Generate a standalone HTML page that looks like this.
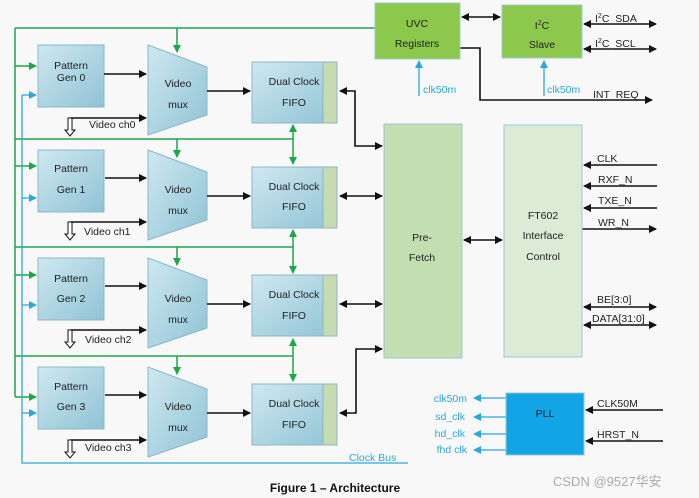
<!DOCTYPE html>
<html><head><meta charset="utf-8"><style>
body{margin:0;background:#f8f8f8;}
svg{display:block;font-family:"Liberation Sans",sans-serif;}
</style></head><body>
<svg width="699" height="498" viewBox="0 0 699 498">
<defs>
<linearGradient id="bl" x1="0" y1="0" x2="1" y2="1"><stop offset="0" stop-color="#cfe8f0"/><stop offset="1" stop-color="#8fc3d5"/></linearGradient>
<marker id="ak" markerWidth="8" markerHeight="8" refX="7" refY="4" orient="auto-start-reverse" markerUnits="userSpaceOnUse"><path d="M0,0 L8,4 L0,8 z" fill="#111"/></marker>
<marker id="ag" markerWidth="8" markerHeight="8" refX="7" refY="4" orient="auto-start-reverse" markerUnits="userSpaceOnUse"><path d="M0,0 L8,4 L0,8 z" fill="#1aa84a"/></marker>
<marker id="ab" markerWidth="8" markerHeight="8" refX="7" refY="4" orient="auto-start-reverse" markerUnits="userSpaceOnUse"><path d="M0,0 L8,4 L0,8 z" fill="#29a8e0"/></marker>
</defs>
<rect width="699" height="498" fill="#f8f8f8"/>
<!-- green bus -->
<g stroke="#1aa84a" stroke-width="1.5" fill="none">
<path d="M15,28 H375 M15,28 V397"/>
<path d="M15,139 H293 M15,247 H293 M15,356 H293"/>
</g>
<g stroke="#1aa84a" stroke-width="1.5" fill="none" marker-end="url(#ag)">
<path d="M15,66 H36"/><path d="M15,166 H36"/><path d="M15,275 H36"/><path d="M15,397 H36"/>
<path d="M177,28 V52"/><path d="M177,139 V157"/><path d="M177,247 V265"/><path d="M177,356 V374"/>
<path d="M293,125 V164" marker-start="url(#ag)"/><path d="M293,230 V273" marker-start="url(#ag)"/><path d="M293,339 V381" marker-start="url(#ag)"/>
</g>
<!-- blue clock bus -->
<g stroke="#29a8e0" stroke-width="1.3" fill="none">
<path d="M22,95 V463 H408"/>
</g>
<g stroke="#29a8e0" stroke-width="1.3" fill="none" marker-end="url(#ab)">
<path d="M22,95 H36"/><path d="M22,198 H36"/><path d="M22,305 H36"/><path d="M22,413 H36"/>
<path d="M419,96 V61"/><path d="M544,96 V61"/>
<path d="M506,398 H474"/><path d="M506,417 H474"/><path d="M506,434 H474"/><path d="M506,450 H474"/>
</g>
<!-- rows -->
<g>
<g id="r0">
<rect x="38" y="45" width="66" height="62" fill="url(#bl)" stroke="#8ab8c8"/>
<path d="M148,45 L207,67 L207,115 L148,135 Z" fill="url(#bl)" stroke="#8ab8c8"/>
<rect x="252" y="62" width="85" height="61" fill="url(#bl)" stroke="#8ab8c8"/>
<rect x="323" y="62" width="14" height="61" fill="#c6dcb0" stroke="#8ab8c8"/>
</g>
<use href="#r0" y="105"/><use href="#r0" y="213"/><use href="#r0" y="322"/>
</g>
<g stroke="#111" stroke-width="1.6" fill="none" marker-end="url(#ak)">
<path d="M104,74 H146"/><path d="M105,178 H146"/><path d="M105,286 H146"/><path d="M105,395 H146"/>
<path d="M70,118 H146"/><path d="M70,222 H146"/><path d="M70,330 H146"/><path d="M70,440 H146"/>
<path d="M207,91 H250"/><path d="M207,196 H250"/><path d="M207,304 H250"/><path d="M207,413 H250"/>
<path d="M340,91 H355 V146 H382" marker-start="url(#ak)"/>
<path d="M340,196 H382" marker-start="url(#ak)"/>
<path d="M340,304 H382" marker-start="url(#ak)"/>
<path d="M340,413 H356 V349 H382" marker-start="url(#ak)"/>
<path d="M464,240 H502" marker-start="url(#ak)"/>
<path d="M462,17 H500" marker-start="url(#ak)"/>
<path d="M584,24 H656" marker-start="url(#ak)"/><path d="M584,49 H656" marker-start="url(#ak)"/>
<path d="M584,307 H656" marker-start="url(#ak)"/><path d="M584,325 H656" marker-start="url(#ak)"/>
<path d="M460,48 H480 V100 H652"/>
<path d="M657,165 H584"/><path d="M657,186 H584"/><path d="M657,208 H584"/>
<path d="M663,410 H586"/><path d="M663,441 H586"/>
<path d="M582,229 H656"/>
</g>
<g fill="#fff" stroke="#111" stroke-width="1">
<path d="M68,118 V130 H65 L70,136 L75,130 H72 V118 Z"/>
<path d="M68,222 V234 H65 L70,240 L75,234 H72 V222 Z"/>
<path d="M68,330 V342 H65 L70,348 L75,342 H72 V330 Z"/>
<path d="M68,440 V452 H65 L70,458 L75,452 H72 V440 Z"/>
</g>
<!-- big boxes -->
<rect x="384" y="124" width="78" height="234" fill="#c3deb0" stroke="#9ac8d0"/>
<rect x="504" y="125" width="78" height="232" fill="#dcebd5" stroke="#9ac8d0"/>
<rect x="375" y="3" width="85" height="56" fill="#8cc84b" stroke="#9ac8d0"/>
<rect x="502" y="5" width="80" height="53" fill="#8cc84b" stroke="#9ac8d0"/>
<rect x="506" y="393" width="78" height="62" fill="#12a5e5" stroke="#9ac8d0"/>
<g font-size="10.5" fill="#222" text-anchor="middle">
<text x="71" y="69">Pattern</text><text x="71" y="81">Gen 0</text>
<text x="71" y="172">Pattern</text><text x="71" y="193">Gen 1</text>
<text x="71" y="282">Pattern</text><text x="71" y="302">Gen 2</text>
<text x="71" y="390">Pattern</text><text x="71" y="410">Gen 3</text>
<text x="178" y="87">Video</text><text x="178" y="108">mux</text>
<text x="178" y="193">Video</text><text x="178" y="214">mux</text>
<text x="178" y="302">Video</text><text x="178" y="323">mux</text>
<text x="178" y="410">Video</text><text x="178" y="431">mux</text>
<text x="294" y="85">Dual Clock</text><text x="294" y="106">FIFO</text>
<text x="294" y="190">Dual Clock</text><text x="294" y="210">FIFO</text>
<text x="294" y="298">Dual Clock</text><text x="294" y="319">FIFO</text>
<text x="294" y="407">Dual Clock</text><text x="294" y="428">FIFO</text>
<text x="422" y="241">Pre-</text><text x="422" y="261">Fetch</text>
<text x="543" y="219">FT602</text><text x="543" y="239">Interface</text><text x="543" y="260">Control</text>
<text x="417" y="27">UVC</text><text x="417" y="47">Registers</text>
<text x="542" y="29">I<tspan font-size="7" dy="-4">2</tspan><tspan dy="4">C</tspan></text><text x="542" y="48">Slave</text>
<text x="545" y="417">PLL</text>
</g>
<g font-size="10.5" fill="#222">
<text x="89" y="128">Video ch0</text><text x="84" y="235">Video ch1</text>
<text x="85" y="343">Video ch2</text><text x="85" y="451">Video ch3</text>
<text x="595" y="22">I<tspan font-size="7" dy="-4">2</tspan><tspan dy="4">C_SDA</tspan></text>
<text x="595" y="47">I<tspan font-size="7" dy="-4">2</tspan><tspan dy="4">C_SCL</tspan></text>
<text x="593" y="98">INT_REQ</text>
<text x="597" y="162">CLK</text><text x="598" y="183">RXF_N</text>
<text x="598" y="204">TXE_N</text><text x="598" y="226">WR_N</text>
<text x="597" y="303">BE[3:0]</text><text x="592" y="322">DATA[31:0]</text>
<text x="597" y="407">CLK50M</text><text x="597" y="438">HRST_N</text>
</g>
<g font-size="10.5" fill="#29a8e0">
<text x="423" y="93">clk50m</text><text x="547" y="93">clk50m</text>
<text x="349" y="461">Clock Bus</text>
<g text-anchor="end"><text x="467" y="402">clk50m</text><text x="465" y="420">sd_clk</text><text x="465" y="437">hd_clk</text><text x="467" y="453">fhd  clk</text></g>
</g>
<text x="335" y="492" font-size="12" font-weight="bold" text-anchor="middle" fill="#111">Figure 1 – Architecture</text>
<text x="553" y="486" font-size="13" fill="#aaa" font-family="Liberation Sans, Noto Sans CJK SC, sans-serif">CSDN @9527华安</text>
</svg>
</body></html>
